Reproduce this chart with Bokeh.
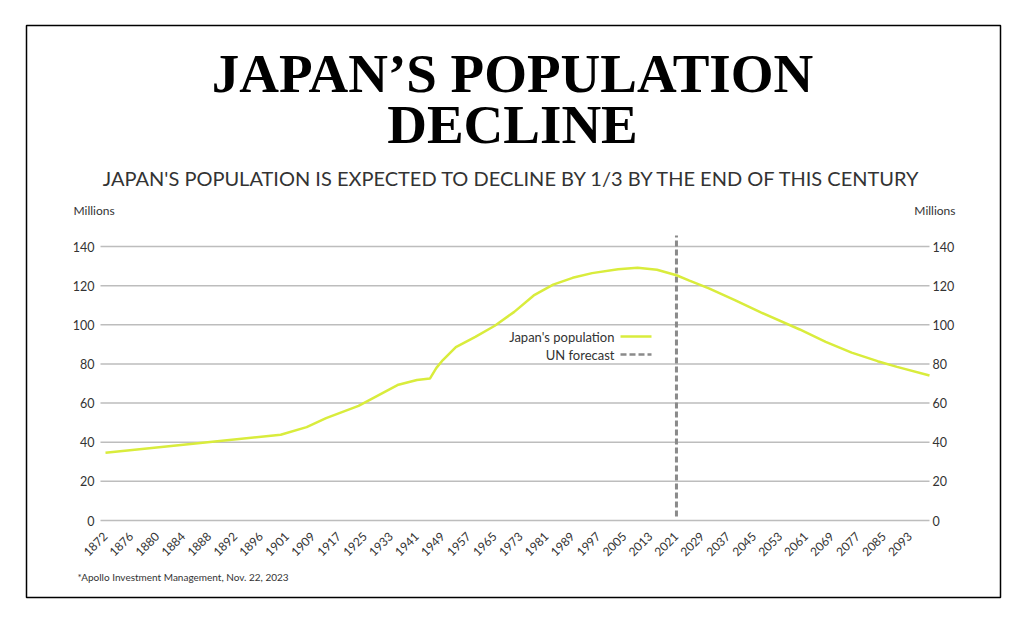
from bokeh.plotting import figure
from bokeh.models import Range1d, LinearAxis, FixedTicker
from bokeh.core.properties import value
from bokeh.embed import file_html
from bokeh.resources import INLINE
from math import pi

# ---------------- data ----------------
years = [1872, 1884, 1899, 1907, 1913, 1923, 1935, 1941, 1945, 1947, 1949, 1953,
         1959, 1965, 1971, 1977, 1983, 1989, 1995, 2003, 2009, 2015, 2021, 2025,
         2031, 2039, 2047, 2059, 2067, 2075, 2083, 2089, 2099]
population = [34.6, 38.7, 43.8, 47.7, 52.3, 58.6, 69.2, 71.8, 72.5, 78.0, 82.0, 88.6,
              93.8, 99.5, 106.6, 115.0, 120.5, 124.0, 126.4, 128.4, 129.1, 128.1, 125.3, 122.6,
              118.6, 112.6, 106.3, 97.6, 91.3, 85.8, 81.4, 78.5, 74.1]
tick_labels = ["1872", "1876", "1880", "1884", "1888", "1892", "1896", "1901", "1909",
               "1917", "1925", "1933", "1941", "1949", "1957", "1965", "1973", "1981",
               "1989", "1997", "2005", "2013", "2021", "2029", "2037", "2045", "2053",
               "2061", "2069", "2077", "2085", "2093"]
y_ticks = [0, 20, 40, 60, 80, 100, 120, 140]
forecast_year = 2021
legend_items = ["Japan's population", "UN forecast"]

def idx(y):
    # categorical position: yearly until 1899, then every second year from 1901
    return (y - 1872) if y < 1900 else 28 + (y - 1901) / 2

xs = [idx(y) for y in years]

# ---------------- layout helpers (pixel -> data) ----------------
W, H = 1024, 624
BL, BR, BT, BB = 26, 1000, 25, 597          # outer border = plot frame
PX0, PXS = 105.0, 824.0 / 127.0             # pixel of index 0, px per index
PY0, PYS = 520.0, 274.0 / 140.0             # pixel of value 0, px per unit

def xp(px):
    return (px - PX0) / PXS

def yp(py):
    return (PY0 - py) / PYS

LINE = "#d9ec3c"
GREY = "#8a8a8a"
TXT = "#333333"
SANS = "Lato"

p = figure(width=W, height=H, output_backend="svg", toolbar_location=None,
           x_range=Range1d(xp(BL), xp(BR)), y_range=Range1d(yp(BB), yp(BT)),
           min_border_left=BL, min_border_right=W - BR,
           min_border_top=BT, min_border_bottom=H - BB,
           background_fill_color="white", border_fill_color="white")
p.outline_line_color = "black"
p.outline_line_width = 1.5
p.xgrid.visible = False
p.ygrid.visible = False

# horizontal grid lines at the y ticks, over the data area only
gx0, gx1 = xp(100), xp(929)
p.segment(x0=[gx0] * len(y_ticks), y0=y_ticks, x1=[gx1] * len(y_ticks), y1=y_ticks,
          line_color="#bdbdbd", line_width=1.5)

# x axis (fixed at value 0)
xa = p.xaxis[0]
xa.fixed_location = 0
xa.ticker = FixedTicker(ticks=[4 * i for i in range(len(tick_labels))])
xa.major_label_overrides = {4 * i: t for i, t in enumerate(tick_labels)}
xa.major_label_orientation = pi / 4
xa.axis_line_color = None
xa.major_tick_line_color = None
xa.major_tick_out = 0
xa.minor_tick_line_color = None
xa.minor_tick_out = 0
xa.major_label_standoff = 14
xa.major_label_text_font = SANS
xa.major_label_text_font_size = "12px"
xa.major_label_text_color = TXT

def style_y(ax, standoff):
    ax.ticker = FixedTicker(ticks=y_ticks)
    ax.axis_line_color = None
    ax.major_tick_line_color = None
    ax.major_tick_out = 0
    ax.minor_tick_line_color = None
    ax.minor_tick_out = 0
    ax.major_label_standoff = standoff
    ax.major_label_text_font = SANS
    ax.major_label_text_font_size = "12.5px"
    ax.major_label_text_color = TXT

ya = p.yaxis[0]
ya.fixed_location = gx0
style_y(ya, 6)

ra = LinearAxis(fixed_location=gx1)
style_y(ra, 3)
p.add_layout(ra, "right")

# forecast divider
fx = idx(forecast_year)
p.segment(x0=[fx], y0=[yp(516)], x1=[fx], y1=[yp(235)], line_color=GREY,
          line_width=3, line_dash="6 3")

# population line
p.line(xs, population, line_color=LINE, line_width=2.5)

# legend (text left of the sample line)
p.segment(x0=[xp(620)], y0=[yp(336)], x1=[xp(651)], y1=[yp(336)], line_color=LINE, line_width=2.5)
p.segment(x0=[xp(620)], y0=[yp(354)], x1=[xp(651)], y1=[yp(354)], line_color=GREY,
          line_width=2.5, line_dash="6 3")
p.text(x=[xp(614)] * 2, y=[yp(336), yp(354)], text=legend_items,
       text_align="right", text_baseline="middle", text_font=value(SANS),
       text_font_size=value("13px"), text_color=TXT)

# titles
p.text(x=[xp(512), xp(512)], y=[yp(73), yp(124)], text=["JAPAN\u2019S POPULATION", "DECLINE"],
       text_align="center", text_baseline="alphabetic", text_font=value("Liberation Serif"),
       text_font_style="bold", text_font_size=value("55px"), text_color="black")
p.text(x=[xp(512)], y=[yp(177)],
       text=["JAPAN'S POPULATION IS EXPECTED TO DECLINE BY 1/3 BY THE END OF THIS CENTURY"],
       text_align="center", text_baseline="alphabetic", text_font=value(SANS),
       text_font_size=value("20px"), text_color=TXT)

# "Millions" captions
p.text(x=[xp(73)], y=[yp(210)], text=["Millions"], text_align="left", text_baseline="middle",
       text_font=value(SANS), text_font_size=value("12px"), text_color=TXT)
p.text(x=[xp(955)], y=[yp(210)], text=["Millions"], text_align="right", text_baseline="middle",
       text_font=value(SANS), text_font_size=value("12px"), text_color=TXT)

# footnote
p.text(x=[xp(77)], y=[yp(576)], text=["*Apollo Investment Management, Nov. 22, 2023"],
       text_align="left", text_baseline="middle", text_font=value(SANS),
       text_font_size=value("10px"), text_color=TXT)

open("out.html", "w").write(file_html(p, INLINE))
